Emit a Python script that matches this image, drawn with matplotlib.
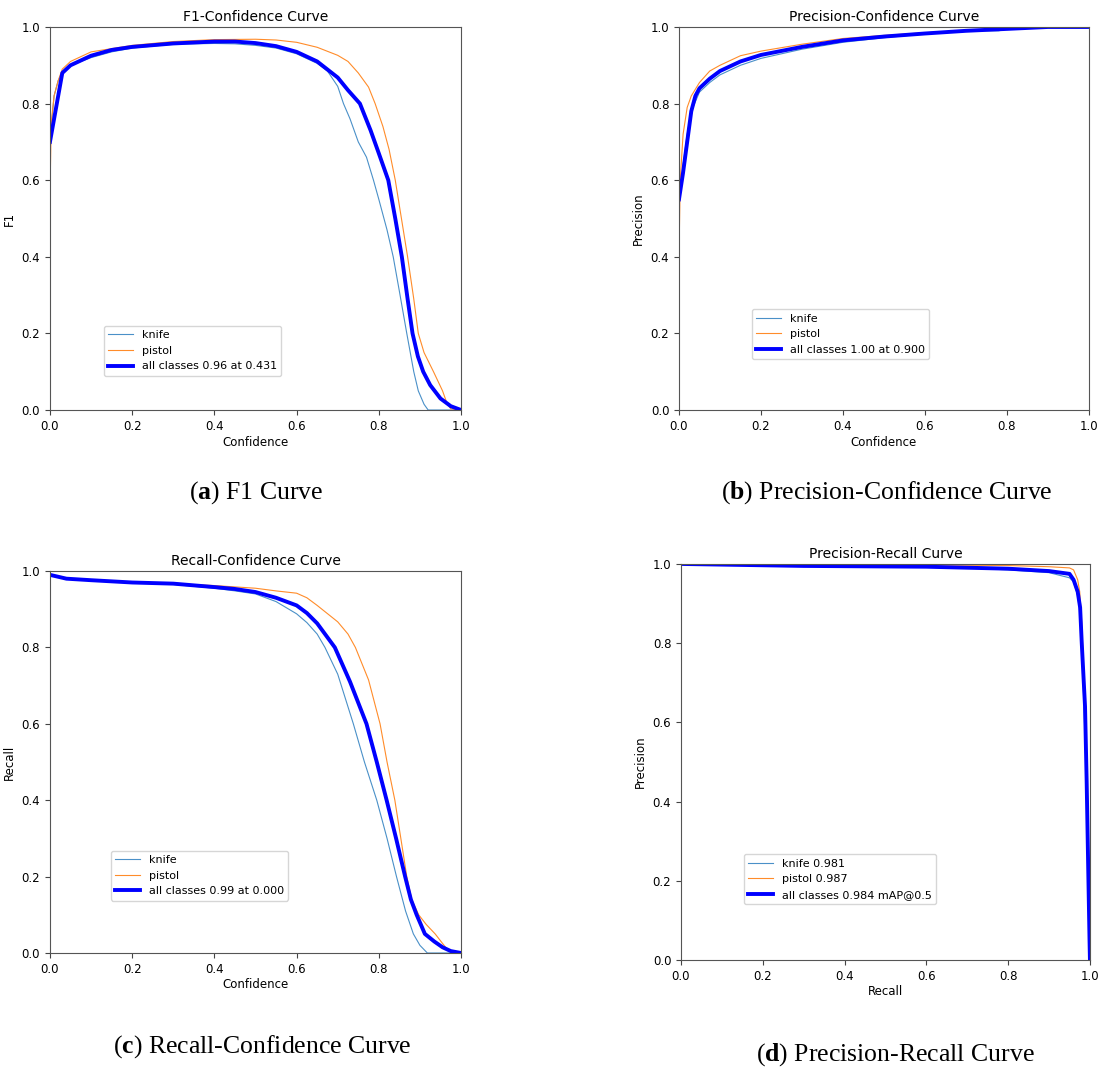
"""Four YOLO-style evaluation curves (F1, P, R vs confidence and PR) with captions."""

import matplotlib

matplotlib.use("Agg")
import matplotlib.pyplot as plt

# -------------------------
# Data
# -------------------------
CLASS_NAMES = ["knife", "pistol"]

# (a) F1-Confidence
f1_knife_x = [0.0, 0.005, 0.01, 0.02, 0.03, 0.05, 0.1, 0.15, 0.2, 0.3, 0.4, 0.45, 0.5, 0.55, 0.6,
              0.65, 0.675, 0.7, 0.714, 0.73, 0.75, 0.77, 0.787, 0.8, 0.82, 0.835, 0.85, 0.868,
              0.885, 0.896, 0.91, 0.92, 1.0]
f1_knife_y = [0.70, 0.76, 0.82, 0.86, 0.88, 0.90, 0.92, 0.935, 0.945, 0.955, 0.957, 0.956, 0.952,
              0.945, 0.93, 0.905, 0.885, 0.845, 0.80, 0.76, 0.70, 0.66, 0.60, 0.55, 0.47, 0.40,
              0.31, 0.20, 0.10, 0.05, 0.015, 0.0, 0.0]
f1_pistol_x = [0.0, 0.003, 0.01, 0.02, 0.03, 0.05, 0.1, 0.2, 0.3, 0.4, 0.5, 0.55, 0.6, 0.65, 0.7,
               0.725, 0.75, 0.775, 0.791, 0.81, 0.825, 0.84, 0.855, 0.87, 0.885, 0.896, 0.91,
               0.933, 0.955, 0.965, 0.975, 1.0]
f1_pistol_y = [0.56, 0.75, 0.82, 0.86, 0.89, 0.91, 0.935, 0.952, 0.962, 0.967, 0.968, 0.966, 0.96,
               0.947, 0.926, 0.91, 0.88, 0.843, 0.80, 0.74, 0.68, 0.60, 0.50, 0.40, 0.29, 0.20,
               0.15, 0.10, 0.05, 0.02, 0.003, 0.0]
f1_all_x = [0.0, 0.01, 0.02, 0.03, 0.05, 0.1, 0.15, 0.2, 0.3, 0.4, 0.45, 0.5, 0.55, 0.6, 0.65, 0.7,
            0.725, 0.754, 0.78, 0.8, 0.823, 0.84, 0.856, 0.87, 0.882, 0.895, 0.908, 0.925, 0.95,
            0.975, 1.0]
f1_all_y = [0.70, 0.76, 0.82, 0.88, 0.90, 0.925, 0.94, 0.948, 0.957, 0.962, 0.962, 0.958, 0.950,
            0.935, 0.910, 0.868, 0.835, 0.80, 0.73, 0.67, 0.60, 0.50, 0.40, 0.29, 0.20, 0.14,
            0.10, 0.065, 0.03, 0.01, 0.0]

# (b) Precision-Confidence
p_knife_x = [0.0, 0.01, 0.02, 0.03, 0.05, 0.075, 0.1, 0.15, 0.2, 0.3, 0.4, 0.5, 0.6, 0.7, 0.78, 0.8, 0.9, 1.0]
p_knife_y = [0.55, 0.64, 0.72, 0.78, 0.83, 0.855, 0.875, 0.90, 0.918, 0.942, 0.96, 0.972, 0.982,
             0.99, 0.99, 0.995, 1.0, 1.0]
p_pistol_x = [0.0, 0.003, 0.01, 0.02, 0.03, 0.05, 0.075, 0.1, 0.15, 0.2, 0.3, 0.4, 0.5, 0.6, 0.7, 0.8, 0.9, 1.0]
p_pistol_y = [0.40, 0.60, 0.72, 0.79, 0.82, 0.855, 0.885, 0.90, 0.925, 0.937, 0.955, 0.97, 0.978,
              0.985, 0.991, 0.996, 1.0, 1.0]
p_all_x = [0.0, 0.01, 0.02, 0.03, 0.04, 0.05, 0.075, 0.1, 0.15, 0.2, 0.3, 0.4, 0.5, 0.6, 0.7, 0.8, 0.9, 1.0]
p_all_y = [0.55, 0.62, 0.70, 0.78, 0.82, 0.84, 0.865, 0.885, 0.91, 0.927, 0.948, 0.965, 0.975,
           0.983, 0.99, 0.995, 1.0, 1.0]

# (c) Recall-Confidence
r_knife_x = [0.0, 0.02, 0.04, 0.1, 0.2, 0.3, 0.4, 0.45, 0.5, 0.55, 0.6, 0.625, 0.65, 0.669, 0.7,
             0.738, 0.765, 0.795, 0.82, 0.843, 0.865, 0.884, 0.9, 0.918, 1.0]
r_knife_y = [0.99, 0.985, 0.98, 0.976, 0.97, 0.965, 0.955, 0.948, 0.94, 0.92, 0.888, 0.865, 0.835,
             0.80, 0.73, 0.60, 0.50, 0.40, 0.30, 0.20, 0.11, 0.05, 0.02, 0.0, 0.0]
r_pistol_x = [0.0, 0.02, 0.04, 0.1, 0.2, 0.3, 0.4, 0.5, 0.55, 0.6, 0.625, 0.65, 0.7, 0.725, 0.743,
              0.775, 0.803, 0.82, 0.839, 0.855, 0.868, 0.88, 0.897, 0.915, 0.937, 0.955, 0.97, 1.0]
r_pistol_y = [0.99, 0.985, 0.98, 0.976, 0.97, 0.967, 0.962, 0.955, 0.948, 0.942, 0.93, 0.91, 0.867,
              0.835, 0.80, 0.715, 0.60, 0.50, 0.40, 0.29, 0.20, 0.14, 0.10, 0.075, 0.05, 0.025, 0.005, 0.0]
r_all_x = [0.0, 0.02, 0.04, 0.1, 0.2, 0.3, 0.4, 0.45, 0.5, 0.55, 0.6, 0.625, 0.65, 0.693, 0.73,
           0.77, 0.795, 0.819, 0.842, 0.864, 0.878, 0.892, 0.912, 0.935, 0.955, 0.975, 1.0]
r_all_y = [0.99, 0.985, 0.98, 0.976, 0.97, 0.967, 0.958, 0.953, 0.945, 0.93, 0.91, 0.89, 0.863,
           0.80, 0.71, 0.60, 0.50, 0.40, 0.30, 0.20, 0.14, 0.10, 0.05, 0.03, 0.015, 0.005, 0.0]

# (d) Precision-Recall
pr_knife_x = [0.0, 0.4, 0.7, 0.8, 0.9, 0.95, 0.96, 0.97, 0.975, 0.98, 0.985, 0.99, 0.995, 1.0]
pr_knife_y = [1.0, 0.995, 0.99, 0.985, 0.978, 0.965, 0.955, 0.92, 0.88, 0.80, 0.65, 0.50, 0.30, 0.0]
pr_pistol_x = [0.0, 0.5, 0.8, 0.9, 0.95, 0.96, 0.97, 0.975, 0.98, 0.985, 0.99, 0.995, 1.0]
pr_pistol_y = [1.0, 0.998, 0.996, 0.993, 0.99, 0.985, 0.96, 0.93, 0.85, 0.72, 0.55, 0.30, 0.0]
pr_all_x = [0.0, 0.3, 0.6, 0.8, 0.9, 0.95, 0.96, 0.97, 0.976, 0.98, 0.985, 0.988, 0.992, 0.996, 0.999, 1.0]
pr_all_y = [1.0, 0.995, 0.993, 0.988, 0.982, 0.975, 0.96, 0.93, 0.89, 0.80, 0.70, 0.64, 0.45, 0.22, 0.05, 0.0]

ALL_LABELS = ["all classes 0.96 at 0.431", "all classes 1.00 at 0.900",
              "all classes 0.99 at 0.000", "all classes 0.984 mAP@0.5"]
PR_CLASS_LABELS = ["knife 0.981", "pistol 0.987"]
TITLES = ["F1-Confidence Curve", "Precision-Confidence Curve",
          "Recall-Confidence Curve", "Precision-Recall Curve"]
XLABELS = ["Confidence", "Confidence", "Confidence", "Recall"]
YLABELS = ["F1", "Precision", "Recall", "Precision"]
CAPTION_TAGS = ["a", "b", "c", "d"]
CAPTIONS = ["F1 Curve", "Precision-Confidence Curve",
            "Recall-Confidence Curve", "Precision-Recall Curve"]


def main() -> None:
    plt.rcParams["font.family"] = "DejaVu Sans"
    plt.rcParams["mathtext.fontset"] = "custom"
    plt.rcParams["mathtext.rm"] = "Liberation Serif"
    plt.rcParams["mathtext.bf"] = "Liberation Serif:bold"

    fig = plt.figure(figsize=(11.08, 10.75), dpi=100)

    # axes boxes in figure fraction [left, bottom, width, height]
    boxes = [
        [0.0451, 0.6186, 0.371, 0.3563],
        [0.6128, 0.6186, 0.370, 0.3563],
        [0.0451, 0.1135, 0.371, 0.3553],
        [0.6146, 0.1070, 0.3691, 0.3684],
    ]
    legend_anchor = [(0.131, 0.089), (0.178, 0.133), (0.148, 0.137), (0.154, 0.141)]
    caption_pos = [(256, 493), (887, 493), (262, 1047), (895, 1055)]

    curves = [
        ((f1_knife_x, f1_knife_y), (f1_pistol_x, f1_pistol_y), (f1_all_x, f1_all_y)),
        ((p_knife_x, p_knife_y), (p_pistol_x, p_pistol_y), (p_all_x, p_all_y)),
        ((r_knife_x, r_knife_y), (r_pistol_x, r_pistol_y), (r_all_x, r_all_y)),
        ((pr_knife_x, pr_knife_y), (pr_pistol_x, pr_pistol_y), (pr_all_x, pr_all_y)),
    ]

    for i, box in enumerate(boxes):
        ax = fig.add_axes(box)
        (kx, ky), (px, py), (ax_, ay) = curves[i]
        names = PR_CLASS_LABELS if i == 3 else CLASS_NAMES
        ax.plot(kx, ky, linewidth=0.8, color="#4a90c8", label=names[0])
        ax.plot(px, py, linewidth=0.8, color="#ff8c2a", label=names[1])
        ax.plot(ax_, ay, linewidth=2.8, color="blue", label=ALL_LABELS[i])
        ax.set_xlim(0, 1)
        ax.set_ylim(0, 1)
        ax.set_title(TITLES[i], fontsize=10, pad=4)
        ax.set_xlabel(XLABELS[i], fontsize=8.5, labelpad=2)
        ax.set_ylabel(YLABELS[i], fontsize=8.5, labelpad=4)
        ax.tick_params(labelsize=8.5, color="#444444", length=3.5)
        for s in ax.spines.values():
            s.set_color("#555555")
        ax.legend(loc="lower left", bbox_to_anchor=legend_anchor[i], borderaxespad=0,
                  fontsize=8, handlelength=2.2)

        cx, cy = caption_pos[i]
        fig.text(cx / 1108, 1 - cy / 1075, rf"($\mathbf{{{CAPTION_TAGS[i]}}}$) {CAPTIONS[i]}",
                 ha="center", va="center", fontsize=18.5, family="Liberation Serif")

    fig.savefig("out.png", dpi=100)
    plt.close(fig)


if __name__ == "__main__":
    main()
